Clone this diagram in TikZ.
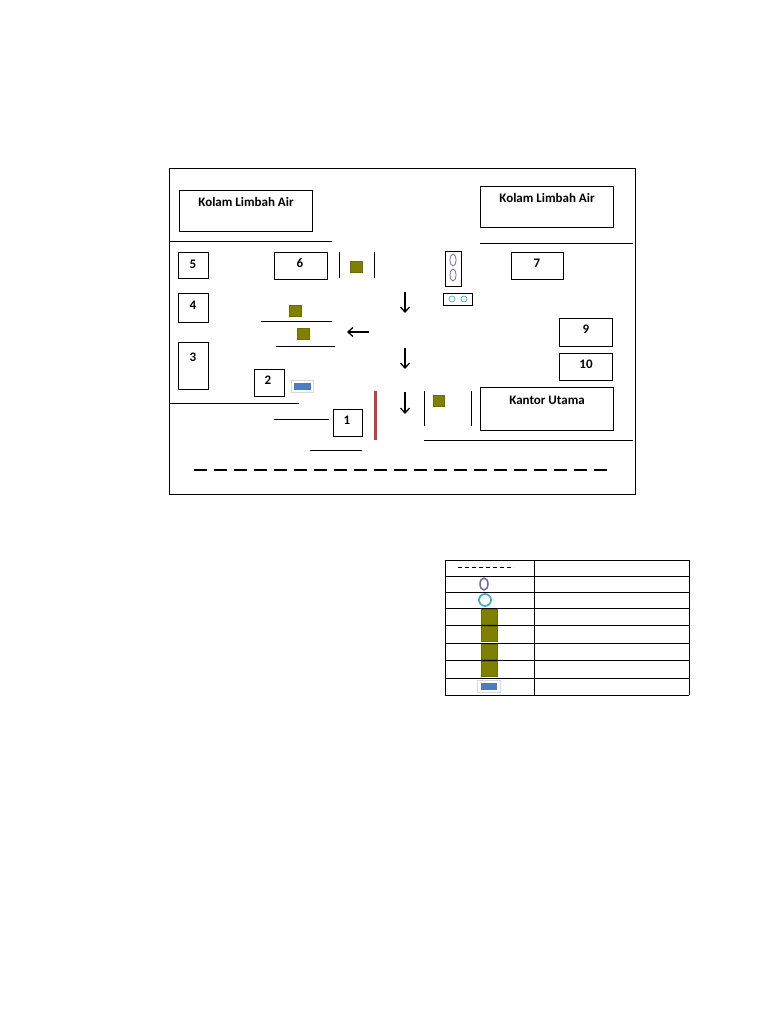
\documentclass[tikz,border=0pt]{standalone}
\usepackage{fontspec}
\usetikzlibrary{arrows.meta}
\setmainfont{Carlito}
\definecolor{oliv}{RGB}{128,128,0}
\definecolor{olivd}{RGB}{110,110,0}
\definecolor{blu}{RGB}{74,126,193}
\definecolor{redl}{RGB}{192,64,64}
\definecolor{purp}{RGB}{128,100,162}
\definecolor{cya}{RGB}{75,172,198}
\begin{document}
\begin{tikzpicture}[x=1pt,y=-1pt,
  box/.style={draw,line width=0.8pt},
  lbl/.style={font=\bfseries\fontsize{13}{15}\selectfont},
  ln/.style={line width=0.8pt},
  olive/.style={fill=oliv,draw=olivd},
  arr/.style={-{Straight Barb[length=5pt,width=9pt]},line width=1.3pt}]
\useasboundingbox (0,0) rectangle (768,1024);
\draw[box] (169,168) rectangle (635,494);
% kolam
\draw[box] (179,190) rectangle (312,231);
\node[lbl] (k1) at (246,202) {Kolam Limbah Air};
\draw[box] (480,186) rectangle (613,227);
\node[lbl] (k2) at (547,198) {Kolam Limbah Air};
\draw[ln] (169,241) -- (332,241);
\draw[ln] (480,243) -- (633,243);
% numbered boxes
\draw[box] (178,252) rectangle (208,278); \node[lbl] (n5) at (193,264) {5};
\draw[box] (274,252) rectangle (327,279); \node[lbl] (n6) at (300,263) {6};
\draw[box] (511,252) rectangle (563,279); \node[lbl] (n7) at (537,263) {7};
\draw[box] (178,293) rectangle (208,322); \node[lbl] (n4) at (193,305) {4};
\draw[box] (178,342) rectangle (208,389); \node[lbl] (n3) at (193,357) {3};
\draw[box] (559,318) rectangle (612,346); \node[lbl] (n9) at (586,329) {9};
\draw[box] (559,353) rectangle (612,380); \node[lbl] (n10) at (586,364) {10};
\draw[box] (254,369) rectangle (284,396); \node[lbl] (n2) at (268,380) {2};
\draw[box] (333,409) rectangle (362,436); \node[lbl] (n1) at (347,420) {1};
\draw[box] (480,387) rectangle (613,430);
\node[lbl] (ku) at (547,400) {Kantor Utama};
% lines
\draw[ln] (339,252) -- (339,278); \draw[ln] (374,252) -- (374,278);
\draw[olive] (350,261) rectangle (362,272);
\draw[box] (445,251) rectangle (461,286);
\draw[purp,line width=0.8pt] (453,260) ellipse (3 and 6) (453,275) ellipse (3 and 6);
\draw[box] (443,293) rectangle (472,305);
\draw[cya,line width=0.7pt] (452,299) circle (3) (464,299) circle (3);
\draw[olive] (289,305) rectangle (301,316);
\draw[ln] (261,321) -- (332,321);
\draw[olive] (297,328) rectangle (309,339);
\draw[ln] (276,346) -- (335,346);
\coordinate (la) at (369,332); \coordinate (lb) at (347,332);
\draw[arr] (la) -- (lb);
\coordinate (d1a) at (405,292); \coordinate (d1b) at (405,313);
\coordinate (d2a) at (405,348); \coordinate (d2b) at (405,369);
\coordinate (d3a) at (405,392); \coordinate (d3b) at (405,414);
\draw[arr] (d1a) -- (d1b); \draw[arr] (d2a) -- (d2b); \draw[arr] (d3a) -- (d3b);
\draw[gray!30,line width=2pt] (292,381) rectangle (313,392);
\fill[white] (292,381) rectangle (313,392);
\fill[blu] (294,383) rectangle (311,390);
\draw[ln] (169,403) -- (299,403);
\draw[ln] (274,419) -- (329,419);
\draw[ln] (310,450) -- (362,450);
\draw[redl,line width=3pt] (375,391) -- (375,440);
\draw[ln] (424,391) -- (424,426); \draw[ln] (471,391) -- (471,426);
\draw[olive] (433,395) rectangle (444,406);
\draw[ln] (424,440) -- (633,440);
\draw[line width=1.6pt,dash pattern=on 13pt off 7pt] (194,470) -- (613,470);
% legend
\foreach \y in {560,576,592,608,625,643,660,678,695} \draw[ln] (445,\y) -- (689,\y);
\draw[ln] (445,560) -- (445,695); \draw[ln] (534,560) -- (534,695); \draw[ln] (689,560) -- (689,695);
\draw[line width=0.6pt,dash pattern=on 4pt off 3pt] (458,567) -- (514,567);
\draw[purp,line width=1.5pt] (484,584) ellipse (4 and 6);
\draw[cya,line width=1.8pt] (485,600) circle (6);
\foreach \y in {608,625,643,660} \draw[olive] (481,\y+1) rectangle (497,\y+16);
\draw[gray!30,line width=2pt] (478,681) rectangle (500,692);
\fill[white] (478,681) rectangle (500,692);
\fill[blu] (481,683) rectangle (497,690);
\end{tikzpicture}
\end{document}
